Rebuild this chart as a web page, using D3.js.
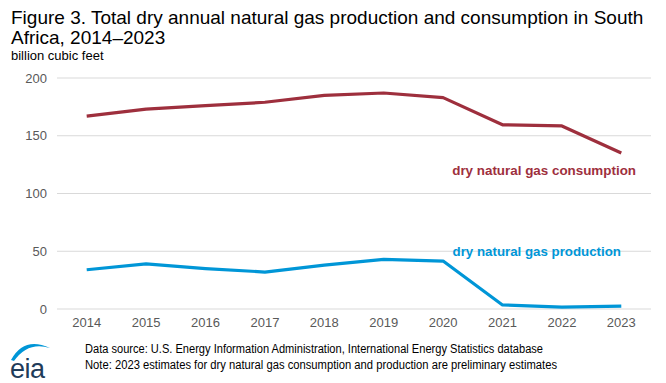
<!DOCTYPE html>
<html><head><meta charset="utf-8">
<script src="https://cdn.jsdelivr.net/npm/d3@7"></script>
<style>
body{margin:0;background:#fff;}
svg{display:block;font-family:"Liberation Sans",Arial,sans-serif;}
</style></head>
<body><svg id="c" width="666" height="383"></svg>
<script>
const years = ["2014","2015","2016","2017","2018","2019","2020","2021","2022","2023"];
const consumption = [167,173,176,179,185,187,183,159.5,158.5,135];
const production = [34,39,35,32,38,43,41.5,3.5,1.7,2.5];
const yTicks = [0,50,100,150,200];
const titleLines = ["Figure 3. Total dry annual natural gas production and consumption in South","Africa, 2014\u20132023"];
const unitLabel = "billion cubic feet";
const footer = ["Data source: U.S. Energy Information Administration, International Energy Statistics database","Note: 2023 estimates for dry natural gas consumption and production are preliminary estimates"];

const svg = d3.select("#c");
const x = d3.scaleBand().domain(years).range([57,651]);
const y = d3.scaleLinear().domain([0,200]).range([309,78]);
const cx = d => x(d)+x.bandwidth()/2;

svg.append("g").selectAll("text").data(titleLines).join("text")
  .attr("x",11).attr("y",(d,i)=>24+i*20).attr("font-size",19).attr("fill","#000").text(d=>d);
svg.append("text").attr("x",11).attr("y",60).attr("font-size",13).attr("fill","#000").text(unitLabel);

const grid = svg.append("g");
grid.selectAll("line").data(yTicks).join("line")
  .attr("x1",57).attr("x2",651).attr("y1",d=>y(d)).attr("y2",d=>y(d))
  .attr("stroke","#d9d9d9").attr("stroke-width",1);

const yAxis = svg.append("g").attr("transform","translate(57,0)")
  .call(d3.axisLeft(y).tickValues(yTicks).tickSize(0).tickPadding(10));
yAxis.select(".domain").remove();
yAxis.selectAll("text").attr("font-size",13).attr("fill","#595959").attr("font-family","Liberation Sans, Arial, sans-serif");

const xAxis = svg.append("g").attr("transform","translate(0,309)")
  .call(d3.axisBottom(x).tickSize(0).tickPadding(9));
xAxis.select(".domain").remove();
xAxis.selectAll("text").attr("font-size",13).attr("fill","#595959").attr("font-family","Liberation Sans, Arial, sans-serif");

const line = d3.line().x((d,i)=>cx(years[i])).y(d=>y(d));
svg.append("path").datum(consumption).attr("d",line).attr("fill","none")
  .attr("stroke","#9e2f3d").attr("stroke-width",3.2).attr("stroke-linejoin","round");
svg.append("path").datum(production).attr("d",line).attr("fill","none")
  .attr("stroke","#0096d7").attr("stroke-width",3.2).attr("stroke-linejoin","round");

svg.append("text").attr("x",636).attr("y",175).attr("text-anchor","end")
  .attr("font-size",13.4).attr("font-weight","bold").attr("fill","#9e2f3d").text("dry natural gas consumption");
svg.append("text").attr("x",621).attr("y",256).attr("text-anchor","end")
  .attr("font-size",13.3).attr("font-weight","bold").attr("fill","#0096d7").text("dry natural gas production");

const footLen = [458, 472];
svg.append("g").selectAll("text").data(footer).join("text")
  .attr("x",85).attr("y",(d,i)=>353+i*15.5).attr("font-size",12)
  .attr("textLength",(d,i)=>footLen[i]).attr("lengthAdjust","spacingAndGlyphs")
  .attr("fill","#000").text(d=>d);

// eia logo
const logo = svg.append("g");
logo.append("path").attr("d","M11,360 Q24,336 50,348 Q28,341 14,361 Z").attr("fill","#0096d7");
logo.append("text").attr("x",10).attr("y",378).attr("font-size",27).attr("fill","#1f3c5a")
  .attr("font-family","Liberation Sans, Arial, sans-serif").attr("letter-spacing",-0.5).text("eia");
</script></body></html>
